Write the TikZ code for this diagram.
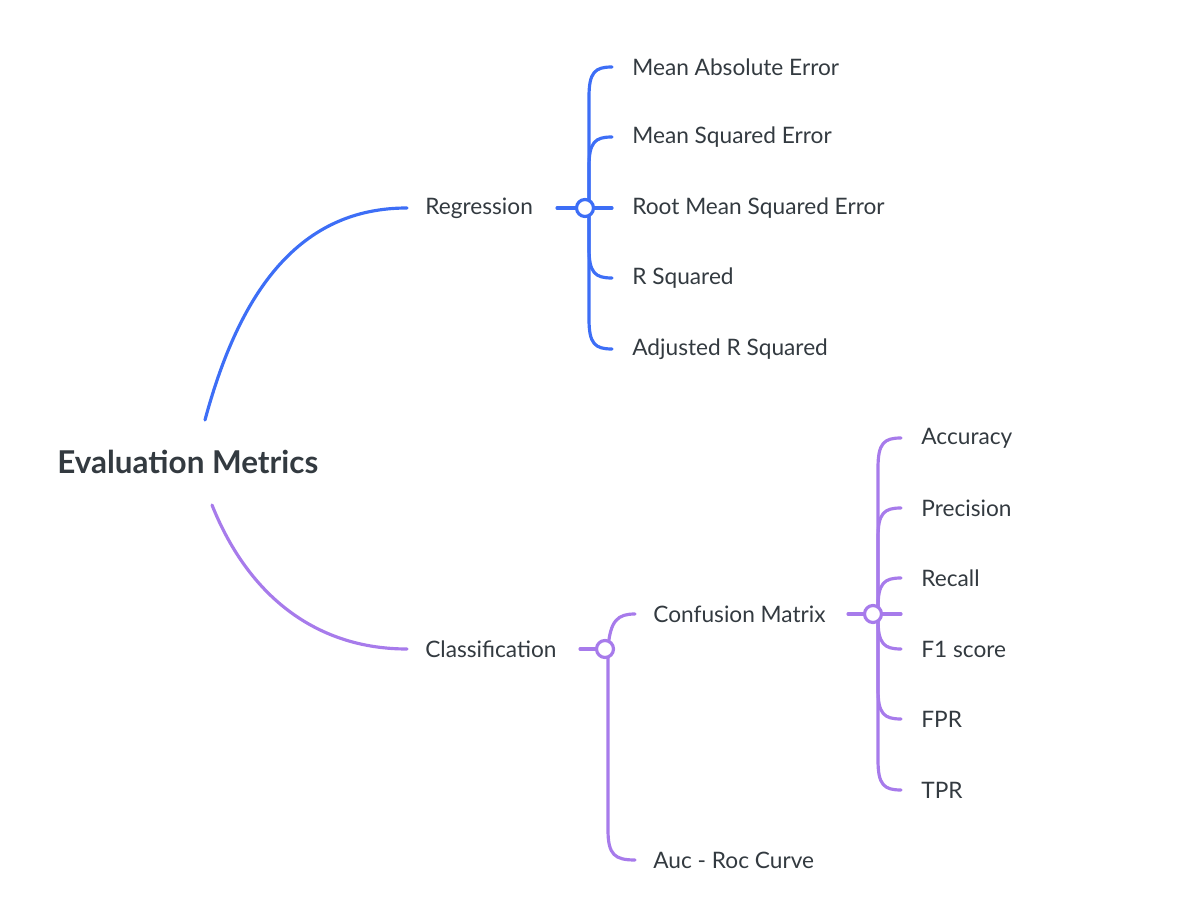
\documentclass[tikz,border=0pt]{standalone}
\usepackage{fontspec}
\setmainfont{Lato}
\begin{document}
\begin{tikzpicture}[x=0.02cm,y=-0.02cm,
  blu/.style={draw={rgb,255:red,61;green,110;blue,246},line width=1.8pt,line cap=round},
  pur/.style={draw={rgb,255:red,167;green,123;blue,235},line width=1.8pt,line cap=round},
  lbl/.style={anchor=west,inner sep=0pt,font=\fontsize{12.9}{15}\selectfont,text={rgb,255:red,51;green,58;blue,64}},
  hub/.style={circle,fill=white,minimum size=0.34cm,inner sep=0pt,line width=1.8pt}]
\useasboundingbox (0,0) rectangle (1200,911);
\node[anchor=west,inner sep=0pt,font=\bfseries\fontsize{17.9}{20}\selectfont,text={rgb,255:red,51;green,58;blue,64}] (root) at (57,462) {Evaluation Metrics};
% regression
\node[lbl] (reg) at (425,208) {Regression};
\coordinate (rs) at (205,420);
\coordinate (re) at (407,208);
\draw[blu] (rs) .. controls (240,290) and (300,208) .. (re);
\draw[blu] (557,208) -- (612,208);
\foreach \y/\n in {67/a,137/b,278/d,349/e}{
  \coordinate (p\n) at (612,\y);
  \pgfmathsetmacro\d{\y<208 ? 1 : -1}
  \draw[blu] (589,208) -- (589,\y+\d*30) .. controls (589,\y+\d*5) and (595,\y) .. (p\n);
}
\foreach \y/\t/\n in {67/Mean Absolute Error/a,137/Mean Squared Error/b,208/Root Mean Squared Error/c,278/R Squared/d,349/Adjusted R Squared/e}{
  \node[lbl] (r\n) at (632,\y) {\t};
}
\node[hub,blu] (rh) at (585,208) {};
% classification
\node[lbl] (cls) at (425,649) {Classification};
\coordinate (cs) at (212,505);
\coordinate (ce) at (407,649);
\draw[pur] (cs) .. controls (250,600) and (320,649) .. (ce);
\draw[pur] (580,649) -- (605,649);
\draw[pur] (608,649) .. controls (610,620) and (618,614) .. (635,614);
\draw[pur] (608,649) -- (608,830) .. controls (608,855) and (615,860) .. (635,860);
\node[hub,pur] (ch) at (605,649) {};
\node[lbl] (cm) at (653,614) {Confusion Matrix};
\node[lbl] (auc) at (653,860) {Auc - Roc Curve};
\draw[pur] (848,614) -- (901,614);
\foreach \y in {438,508,578,649,719,790}{
  \pgfmathsetmacro\d{\y<614 ? 1 : -1}
  \draw[pur] (878,614) -- (878,\y+\d*30) .. controls (878,\y+\d*5) and (884,\y) .. (901,\y);
}
\node[hub,pur] (mh) at (873,614) {};
\foreach \y/\t/\n in {438/Accuracy/a,508/Precision/b,578/Recall/c,649/F1 score/d,719/FPR/e,790/TPR/f}{
  \node[lbl] (m\n) at (921,\y) {\t};
}
\end{tikzpicture}
\end{document}
